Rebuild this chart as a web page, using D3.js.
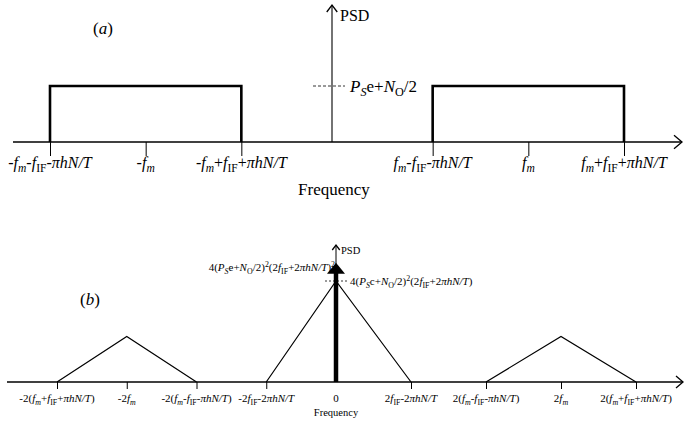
<!DOCTYPE html>
<html>
<head>
<meta charset="utf-8">
<script src="https://cdn.jsdelivr.net/npm/d3@7"></script>
<style>
  body { margin: 0; background: #fff; }
  text { font-family: "Liberation Serif", "Times New Roman", serif; fill: #000; }
</style>
</head>
<body>
<div id="chart"></div>
<script>
// panel (a): frequency in units of f_IF+πhN/T, f_m = 2
const ticksA = [-3, -2, -1, 1, 2, 3];
const tickLabelsA = [
  "-$f$_{$m$}-$f$_{IF}-$πhN/T$",
  "-$f$_{$m$}",
  "-$f$_{$m$}+$f$_{IF}+$πhN/T$",
  "$f$_{$m$}-$f$_{IF}-$πhN/T$",
  "$f$_{$m$}",
  "$f$_{$m$}+$f$_{IF}+$πhN/T$"
];
const bandStartA = [-3, 1];
const bandEndA = [-1, 3];
const levelA = 1;
const levelLabelA = "$P$_{$S$}e+$N$_{O}/2";

// panel (b)
const ticksB = [-8, -6, -4, -2, 0, 2, 4, 6, 8];
const tickLabelsB = [
  "-2($f$_{$m$}+$f$_{IF}+$πhN/T$)",
  "-2$f$_{$m$}",
  "-2($f$_{$m$}-$f$_{IF}-$πhN/T$)",
  "-2$f$_{IF}-2$πhN/T$",
  "0",
  "2$f$_{IF}-2$πhN/T$",
  "2($f$_{$m$}-$f$_{IF}-$πhN/T$)",
  "2$f$_{$m$}",
  "2($f$_{$m$}+$f$_{IF}+$πhN/T$)"
];
const triStartB = [-8, -2, 4];
const triPeakB = [-6, 0, 6];
const triEndB = [-4, 2, 8];
const triHeightB = [0.45, 1, 0.45];
const deltaB = 1.18;
const peakLabelsB = [
  "4($P$_{$S$}e+$N$_{O}/2)^{2}(2$f$_{IF}+2$πhN/T$)^{2}",
  "4($P$_{$S$}c+$N$_{O}/2)^{2}(2$f$_{IF}+2$πhN/T$)"
];

const svg = d3.select("#chart").append("svg").attr("width", 685).attr("height", 422)
  .attr("font-family", "Liberation Serif, Times New Roman, serif");

// small markup: $..$ italic, _{..} subscript, ^{..} superscript
function richText(g, str, x, y, size, anchor) {
  const t = g.append("text").attr("x", x).attr("y", y).attr("font-size", size)
    .attr("text-anchor", anchor || "middle");
  let italic = false, mode = [], buf = "", cur = 0;
  const runs = [];
  const flush = () => { if (buf) { runs.push({s: buf, italic, mode: mode[mode.length - 1] || "n"}); buf = ""; } };
  for (let i = 0; i < str.length; i++) {
    const c = str[i];
    if (c === "$") { flush(); italic = !italic; }
    else if ((c === "_" || c === "^") && str[i + 1] === "{") { flush(); mode.push(c === "_" ? "sub" : "sup"); i++; }
    else if (c === "}" && mode.length) { flush(); mode.pop(); }
    else buf += c;
  }
  flush();
  runs.forEach(r => {
    const off = r.mode === "sub" ? 0.25 * size : r.mode === "sup" ? -0.4 * size : 0;
    t.append("tspan").attr("dy", off - cur)
      .attr("font-size", r.mode === "n" ? size : size * 0.72)
      .attr("font-style", r.italic ? "italic" : "normal").text(r.s);
    cur = off;
  });
  return t;
}

function chevron(g, x, y, dir, s) {
  const p = dir === "right"
    ? `M${x - s},${y - s * 0.85}L${x},${y}L${x - s},${y + s * 0.85}`
    : `M${x - s * 0.75},${y + s}L${x},${y}L${x + s * 0.75},${y + s}`;
  g.append("path").attr("d", p).attr("fill", "none").attr("stroke", "#000").attr("stroke-width", 1.3);
}

// ---------- panel (a) ----------
const gA = svg.append("g");
const xA = d3.scaleLinear().domain([-3, 3]).range([50, 624]);
const yA = d3.scaleLinear().domain([0, 1]).range([142, 86]);
const psdA = xA(0) - 5;   // PSD axis sits a little left of centre in the original

gA.append("line").attr("x1", 13).attr("x2", 682).attr("y1", yA(0)).attr("y2", yA(0))
  .attr("stroke", "#000").attr("stroke-width", 1.6);
chevron(gA, 682, yA(0), "right", 8);
gA.append("line").attr("x1", psdA).attr("x2", psdA).attr("y1", yA(0)).attr("y2", 5)
  .attr("stroke", "#000").attr("stroke-width", 1.1);
chevron(gA, psdA, 5, "up", 7);
gA.append("text").attr("x", psdA + 8).attr("y", 21).attr("font-size", 16).text("PSD");

const axA = gA.append("g").attr("transform", `translate(0,${yA(0)})`)
  .call(d3.axisBottom(xA).tickValues(ticksA).tickSize(14).tickFormat(""));
axA.select(".domain").remove();
axA.selectAll(".tick line").attr("stroke", "#000").attr("stroke-width", 1);

ticksA.forEach((v, i) => richText(gA, tickLabelsA[i], xA(v), 168, 16));

bandStartA.forEach((s, i) => {
  gA.append("path")
    .attr("d", d3.line()([[xA(s), yA(0)], [xA(s), yA(levelA)], [xA(bandEndA[i]), yA(levelA)], [xA(bandEndA[i]), yA(0)]]))
    .attr("fill", "none").attr("stroke", "#000").attr("stroke-width", 2.6);
});
gA.append("line").attr("x1", psdA - 19).attr("x2", psdA + 13).attr("y1", yA(levelA)).attr("y2", yA(levelA))
  .attr("stroke", "#000").attr("stroke-width", 0.8).attr("stroke-dasharray", "3,2");
richText(gA, levelLabelA, psdA + 18, yA(levelA) + 6, 17, "start");
gA.append("text").attr("x", 334).attr("y", 195).attr("font-size", 17).attr("text-anchor", "middle").text("Frequency");
richText(gA, "($a$)", 103, 34, 17);

// ---------- panel (b) ----------
const gB = svg.append("g");
const xB = d3.scaleLinear().domain([-8, 0, 8]).range([57, 336, 636]);
const yB = d3.scaleLinear().domain([0, 1]).range([382, 281]);

gB.append("line").attr("x1", 7).attr("x2", 683).attr("y1", yB(0)).attr("y2", yB(0))
  .attr("stroke", "#000").attr("stroke-width", 1.6);
chevron(gB, 683, yB(0), "right", 7);
gB.append("line").attr("x1", xB(0)).attr("x2", xB(0)).attr("y1", yB(0)).attr("y2", 245)
  .attr("stroke", "#000").attr("stroke-width", 1);
chevron(gB, xB(0), 245, "up", 5);
gB.append("text").attr("x", xB(0) + 5).attr("y", 254).attr("font-size", 10.5).text("PSD");

const axB = gB.append("g").attr("transform", `translate(0,${yB(0)})`)
  .call(d3.axisBottom(xB).tickValues(ticksB.filter(v => v !== 0)).tickSize(7).tickFormat(""));
axB.select(".domain").remove();
axB.selectAll(".tick line").attr("stroke", "#000").attr("stroke-width", 1);

ticksB.forEach((v, i) => richText(gB, tickLabelsB[i], xB(v), 402, 11));

triStartB.forEach((s, i) => {
  gB.append("path")
    .attr("d", d3.line()([[xB(s), yB(0)], [xB(triPeakB[i]), yB(triHeightB[i])], [xB(triEndB[i]), yB(0)]]))
    .attr("fill", "none").attr("stroke", "#000").attr("stroke-width", 1.2);
});

// delta at zero frequency
gB.append("line").attr("x1", xB(0)).attr("x2", xB(0)).attr("y1", yB(0)).attr("y2", yB(deltaB) + 8)
  .attr("stroke", "#000").attr("stroke-width", 4.5);
gB.append("path")
  .attr("d", `M${xB(0) - 9},${yB(deltaB) + 11}L${xB(0)},${yB(deltaB)}L${xB(0) + 9},${yB(deltaB) + 11}Z`)
  .attr("fill", "#000");

gB.append("line").attr("x1", xB(0) - 11).attr("x2", xB(0) + 12).attr("y1", yB(1)).attr("y2", yB(1))
  .attr("stroke", "#000").attr("stroke-width", 0.8).attr("stroke-dasharray", "2,2");
richText(gB, peakLabelsB[0], xB(0) - 1, 271, 11, "end");
richText(gB, peakLabelsB[1], xB(0) + 14, yB(1) + 4, 11, "start");

gB.append("text").attr("x", xB(0)).attr("y", 416).attr("font-size", 10.5).attr("text-anchor", "middle").text("Frequency");
richText(gB, "($b$)", 90, 305, 17);
</script>
</body>
</html>
